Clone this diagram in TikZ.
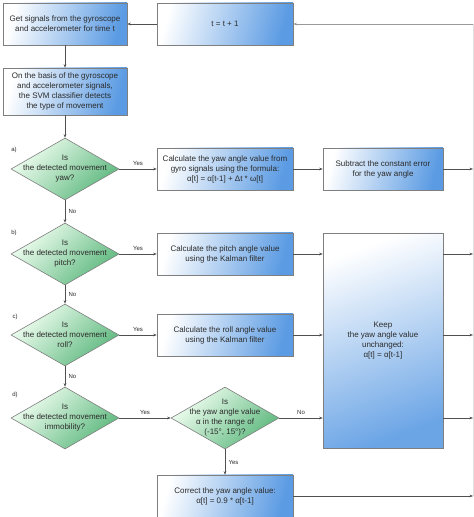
\documentclass[tikz,border=0pt]{standalone}
\usepackage{fontspec}
\setmainfont{Liberation Sans}
\usepackage{tikz}
\usepackage{xcolor}
\usetikzlibrary{shapes.geometric,arrows.meta}
\definecolor{cajaazul}{HTML}{5B9BE3}
\definecolor{verde}{HTML}{5DB87E}
\definecolor{borde}{HTML}{7F7F7F}
\definecolor{linea}{HTML}{505050}
\definecolor{texto}{HTML}{2B2B2B}

\begin{document}
\begin{tikzpicture}[x=1pt, y=1pt,
	caja/.style={rectangle, draw=borde, line width=0.6pt, left color=white, right color=cajaazul, shading angle=75, minimum width=136pt, minimum height=42pt, inner sep=0pt, align=center, font=\fontsize{8}{10}\selectfont, text=texto},
	rombo/.style={diamond, draw=borde, line width=0.6pt, top color=green!5!white, bottom color=verde, shading angle=45, minimum width=108pt, minimum height=62pt, inner sep=0pt},
	etiq/.style={align=center, font=\fontsize{8}{10}\selectfont, text=texto},
	rotulo/.style={font=\fontsize{6}{7}\selectfont, text=texto},
	flecha/.style={draw=linea, line width=0.5pt, -{Stealth[length=3.5pt,width=2.6pt]}},
	retorno/.style={draw=black!12, line width=0.9pt}
	]
	\useasboundingbox (0,0) rectangle (474,517);

	%Cajas de arriba
	\node[caja, minimum width=124pt] (senal) at (65,493) {Get signals from the gyroscope\\and accelerometer for time t};
	\node[caja] (incr) at (225,493) {t = t + 1};
	\node[caja, minimum width=124pt, minimum height=47pt] (svm) at (65,425.5) {On the basis of the gyroscope\\and accelerometer signals,\\the SVM classifier detects\\the type of movement};

	%Rombos
	\node[rombo, label={[etiq]center:{Is\\the detected movement\\yaw?}}] (ra) at (65,348) {};
	\node[rombo, label={[etiq]center:{Is\\the detected movement\\pitch?}}] (rb) at (65,263) {};
	\node[rombo, label={[etiq]center:{Is\\the detected movement\\roll?}}] (rc) at (65,182) {};
	\node[rombo, label={[etiq]center:{Is\\the detected movement\\immobility?}}] (rd) at (65,99) {};
	\node[rombo, label={[etiq]center:{Is\\the yaw angle value\\α in the range of\\(-15°, 15°)?}}] (re) at (225,99) {};

	%Letras
	\node[rotulo] (la) at (14,367) {a)};
	\node[rotulo] (lb) at (14,284) {b)};
	\node[rotulo] (lc) at (15,200) {c)};
	\node[rotulo] (ld) at (15,122) {d)};

	%Cajas de calculo
	\node[caja] (guino) at (225,348) {Calculate the yaw angle value from\\gyro signals using the formula:\\α[t] = α[t-1] + Δt * ω[t]};
	\node[caja, minimum width=120pt] (resta) at (383,348) {Subtract the constant error\\for the yaw angle};
	\node[caja] (cabeceo) at (225,263) {Calculate the pitch angle value\\using the Kalman filter};
	\node[caja] (alabeo) at (225,182) {Calculate the roll angle value\\using the Kalman filter};
	\node[caja, minimum width=120pt, minimum height=215pt, top color=white, bottom color=cajaazul!90, shading angle=20] (mantener) at (383,176.5) {Keep\\the yaw angle value\\unchanged:\\α[t] = α[t-1]};
	\node[caja] (corregir) at (225,21) {Correct the yaw angle value:\\α[t] = 0.9 * α[t-1]};

	%Linea de retorno
	\coordinate (dertop) at (473,493);
	\coordinate (derbot) at (473,21);

	%Flechas columna izquierda
	\draw[flecha] (senal) -- (svm);
	\draw[flecha] (svm) -- (ra);
	\draw[flecha] (ra) -- node[rotulo, right] {No} (rb);
	\draw[flecha] (rb) -- node[rotulo, right] {No} (rc);
	\draw[flecha] (rc) -- node[rotulo, right] {No} (rd);
	%Flechas Yes
	\draw[flecha] (ra) -- node[rotulo, above] {Yes} (guino);
	\draw[flecha] (rb) -- node[rotulo, above] {Yes} (cabeceo);
	\draw[flecha] (rc) -- node[rotulo, above] {Yes} (alabeo);
	\draw[flecha] (rd) -- node[rotulo, above] {Yes} (re);
	\draw[flecha] (re) -- node[rotulo, right] {Yes} (corregir);
	\draw[flecha] (re) -- node[rotulo, above] {No} (re -| mantener.west);
	%Hacia la caja Keep
	\draw[flecha] (guino) -- (resta);
	\draw[flecha] (cabeceo) -- (cabeceo -| mantener.west);
	\draw[flecha] (alabeo) -- (alabeo -| mantener.west);
	%Salidas a la derecha
	\draw[flecha] (resta) -- (resta -| derbot);
	\draw[flecha] (mantener.east |- cabeceo) -- (cabeceo -| derbot);
	\draw[flecha] (mantener.east |- alabeo) -- (alabeo -| derbot);
	\draw[flecha] (mantener.east |- re) -- (re -| derbot);
	\draw[flecha] (corregir) -- (corregir -| derbot);
	%Vuelta arriba
	\draw[retorno] (derbot) -- (dertop);
	\draw[flecha, draw=black!40, line width=0.8pt] (dertop) -- (incr);
	\draw[flecha] (incr) -- (senal);
\end{tikzpicture}
\end{document}
